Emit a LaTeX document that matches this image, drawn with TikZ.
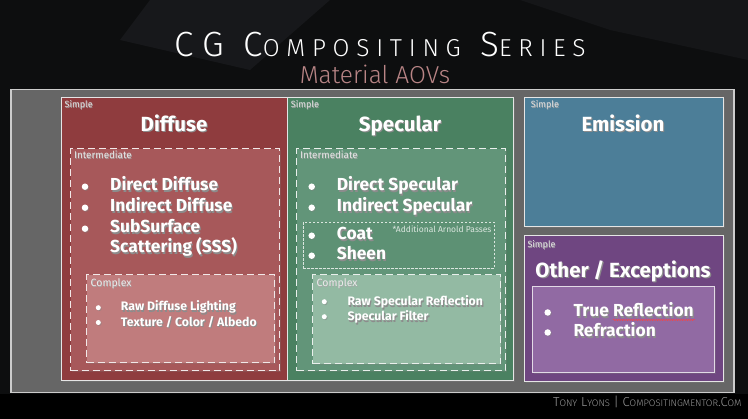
\documentclass[tikz,border=0pt]{standalone}
\usepackage{fontspec}
\setmainfont{Fira Sans}
\newfontfamily\thinfont{Fira Sans Light}
\newfontfamily\widefont{Fira Sans Light}[LetterSpace=27.5]
\usetikzlibrary{shadows,decorations.pathmorphing}
\definecolor{bgdark}{HTML}{0D0E0F}
\definecolor{bgfacet}{HTML}{17181B}
\definecolor{panelgray}{HTML}{666666}
\definecolor{diffC}{HTML}{8F3C3E}
\definecolor{diffInt}{HTML}{A7585A}
\definecolor{diffCpx}{HTML}{C07C7D}
\definecolor{specC}{HTML}{4A8161}
\definecolor{specInt}{HTML}{629579}
\definecolor{specCoat}{HTML}{5D9174}
\definecolor{specCpx}{HTML}{93BAA3}
\definecolor{emisC}{HTML}{4C7E98}
\definecolor{othC}{HTML}{6F4681}
\definecolor{othIn}{HTML}{916AA3}
\definecolor{subpink}{HTML}{B98586}
\colorlet{shc}{black!45}
\newcommand\sh[1]{\rlap{\kern1.1pt\raisebox{-1.1pt}{\color{shc}#1}}#1}
\newcommand\shs[1]{\rlap{\kern.6pt\raisebox{-.6pt}{\color{black!35}#1}}#1}
\newcommand\tsc[1]{{\fontsize{24.5}{25}\selectfont #1}}
\newcommand\fsc[1]{{\fontsize{9.5}{10}\selectfont #1}}
\begin{document}
\begin{tikzpicture}[x=1pt, y=-1pt,
  box/.style={rectangle, inner sep=0pt, anchor=north west},
  panel/.style={box, draw=white!90!black, line width=1pt,
    drop shadow={shadow xshift=1.5pt, shadow yshift=-1.5pt, opacity=.35}},
  dashbox/.style={box, line width=1.4pt, dash pattern=on 7pt off 4pt,
    drop shadow={shadow xshift=1.2pt, shadow yshift=-1.2pt, opacity=.25}},
  ttl/.style={anchor=base, inner sep=0pt, text=white, font=\widefont\fontsize{35}{36}\selectfont},
  subttl/.style={anchor=base, inner sep=0pt, text=subpink, font=\thinfont\fontsize{24.5}{25}\selectfont},
  simple/.style={anchor=base west, inner sep=0pt, text=white!88!black, font=\fontsize{9}{10}\selectfont},
  lvl/.style={anchor=base west, inner sep=0pt, text=white!90!black, font=\fontsize{9.8}{10}\selectfont},
  cpx/.style={anchor=base west, inner sep=0pt, text=white!92!black, font=\fontsize{10.5}{11}\selectfont},
  head/.style={anchor=base, inner sep=0pt, text=white, font=\bfseries\fontsize{20.5}{22}\selectfont},
  item/.style={anchor=base west, inner sep=0pt, text=white, font=\bfseries\fontsize{17.4}{18}\selectfont},
  citem/.style={anchor=base west, inner sep=0pt, text=white, font=\bfseries\fontsize{12.3}{14}\selectfont},
  note/.style={anchor=base west, inner sep=0pt, text=white!80!specC, font=\fontsize{8.5}{9}\selectfont},
  foot/.style={anchor=base east, inner sep=0pt, text=white!60!black, font=\thinfont\fontsize{13}{14}\selectfont},
  dot/.style={circle, fill=white, inner sep=0pt, minimum size=6.5pt,
    drop shadow={shadow xshift=.9pt, shadow yshift=-.9pt, opacity=.45}},
  sdot/.style={dot, minimum size=5pt}]
\useasboundingbox (0,0) rectangle (748,419);
\fill[bgdark] (0,0) rectangle (748,419);
\fill[bgfacet] (150,0) -- (330,0) -- (250,70) -- (120,40) -- cycle;
\fill[bgfacet!80!bgdark] (520,0) -- (748,0) -- (748,60) -- (610,30) -- cycle;
\fill[black] (0,394) rectangle (748,419);

\node[ttl] (title) at (380,57) {CG C\tsc{OMPOSITING} S\tsc{ERIES}};
\node[subttl] (subtitle) at (375,84) {Material AOVs};

\node[box, fill=panelgray, draw=white!80!black, line width=1.5pt, minimum width=723, minimum height=303] (outer) at (10,89) {};

\node[panel, fill=diffC, minimum width=226, minimum height=283] (diffuse) at (61,97) {};
\node[panel, fill=specC, minimum width=226, minimum height=283] (specular) at (287,97) {};
\node[panel, fill=emisC, minimum width=199, minimum height=129] (emission) at (524,97) {};
\node[panel, fill=othC, minimum width=199, minimum height=146] (other) at (524,235) {};

\node[dashbox, fill=diffInt, draw=white!88!diffC, minimum width=209, minimum height=222] (dint) at (70,148) {};
\node[dashbox, fill=diffCpx, draw=white!88!diffC, minimum width=188, minimum height=88] (dcpx) at (86,274) {};
\node[dashbox, fill=specInt, draw=white!88!specC, minimum width=209, minimum height=222] (sint) at (296,148) {};
\node[box, fill=specCoat, draw=white!80!specC, line width=.8pt, dash pattern=on 2.5pt off 1.5pt, minimum width=191, minimum height=46] (scoat) at (303,222) {};
\node[dashbox, fill=specCpx, draw=white!88!specC, minimum width=188, minimum height=89] (scpx) at (312,274) {};
\node[box, fill=othIn, draw=white!80!othC, line width=1pt, minimum width=182, minimum height=86,
  drop shadow={shadow xshift=1.2pt, shadow yshift=-1.2pt, opacity=.3}] (oin) at (532,286) {};

\node[simple] (dsimple) at (64.5,108) {\shs{Simple}};
\node[head] (dhead) at (174,131.5) {\sh{Diffuse}};
\node[lvl] (dintlbl) at (74,159) {\shs{Intermediate}};
\node[dot] (db1) at (85,186.7) {};
\node[dot] (db2) at (85,207.7) {};
\node[dot] (db3) at (85,228.7) {};
\node[item] (dt1) at (110,191) {\sh{Direct Diffuse}};
\node[item] (dt2) at (110,212) {\sh{Indirect Diffuse}};
\node[item] (dt3) at (110,233) {\sh{SubSurface}};
\node[item] (dt4) at (110,253) {\sh{Scattering (SSS)}};
\node[cpx] (dcpxlbl) at (90.5,286.5) {\shs{Complex}};
\node[sdot] (dc1) at (98.3,307.7) {};
\node[sdot] (dc2) at (98.3,322.5) {};
\node[citem] (dct1) at (120.7,311) {\sh{Raw Diffuse Lighting}};
\node[citem] (dct2) at (120.7,326.5) {\sh{Texture / Color / Albedo}};

\node[simple] (ssimple) at (290.7,108) {\shs{Simple}};
\node[head] (shead) at (400,131.5) {\sh{Specular}};
\node[lvl] (sintlbl) at (300,159) {\shs{Intermediate}};
\node[dot] (sb1) at (311.7,186.7) {};
\node[dot] (sb2) at (311.7,207.7) {};
\node[dot] (sb3) at (311.7,235.7) {};
\node[dot] (sb4) at (311.7,255.7) {};
\node[item] (st1) at (336.7,191) {\sh{Direct Specular}};
\node[item] (st2) at (336.7,212) {\sh{Indirect Specular}};
\node[item] (st3) at (336.7,240) {\sh{Coat}};
\node[item] (st4) at (336.7,260) {\sh{Sheen}};
\node[note] (snote) at (392.3,233) {*Additional Arnold Passes};
\node[cpx] (scpxlbl) at (316.5,286.5) {\shs{Complex}};
\node[sdot] (sc1) at (324.3,301.7) {};
\node[sdot] (sc2) at (324.3,316.7) {};
\node[citem] (sct1) at (347.3,306) {\sh{Raw Specular Reflection}};
\node[citem] (sct2) at (347.3,321) {\sh{Specular Filter}};

\node[simple] (esimple) at (530.7,108) {\shs{Simple}};
\node[head] (ehead) at (623,131.5) {\sh{Emission}};

\node[simple] (osimple) at (527.3,247.5) {\shs{Simple}};
\node[head] (ohead) at (623,277.7) {\sh{Other / Exceptions}};
\node[dot] (ob1) at (547.7,312.5) {};
\node[dot] (ob2) at (547.7,332.5) {};
\node[item] (ot1) at (573.3,317) {\sh{True Reflection}};
\node[item] (ot2) at (573.3,337) {\sh{Refraction}};
\draw[red!75!white, line width=.5pt, decorate, decoration={snake, amplitude=.6pt, segment length=2.5pt}] (613,320) -- (695,320);

\node[foot] (footer) at (741.7,406.7) {T\fsc{ONY} L\fsc{YONS} | C\fsc{OMPOSITINGMENTOR}.C\fsc{OM}};
\end{tikzpicture}
\end{document}
